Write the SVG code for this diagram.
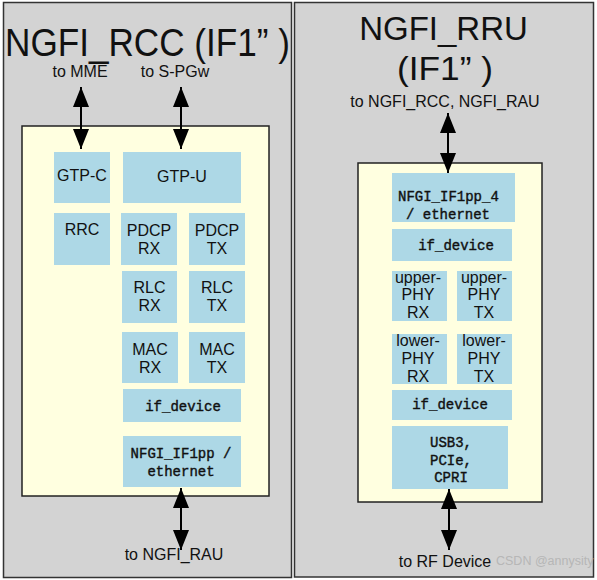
<svg xmlns="http://www.w3.org/2000/svg" width="597" height="580" viewBox="0 0 597 580">
<defs>
<marker id="ah" viewBox="0 0 20 16" refX="20" refY="8" markerWidth="20" markerHeight="16" markerUnits="userSpaceOnUse" orient="auto-start-reverse">
<path d="M0,0 L20,8 L0,16 z" fill="#000"/>
</marker>
<style>
.panel{fill:#d3d3d3;stroke:#333;stroke-width:1.5}
.inner{fill:#ffffe0;stroke:#222;stroke-width:1.5}
.blk{fill:#add8e6;stroke:none}
.t{font-family:"Liberation Sans",Arial,sans-serif;font-size:16px;fill:#111;text-anchor:middle}
.m{font-family:"Liberation Mono","Courier New",monospace;font-size:14px;fill:#111;stroke:#111;stroke-width:0.4;text-anchor:middle}
.ms{font-family:"Liberation Mono","Courier New",monospace;font-size:14px;fill:#111;stroke:#111;stroke-width:0.4;text-anchor:start}
.title{font-family:"Liberation Sans",Arial,sans-serif;fill:#111}
.conn{stroke:#000;stroke-width:2;fill:none;marker-start:url(#ah);marker-end:url(#ah)}
</style>
</defs>
<rect width="597" height="580" fill="#fff"/>

<g id="panel-rcc">
<rect class="panel" x="3.5" y="2.5" width="288" height="575"/>
<text class="title" x="5" y="56" font-size="39" textLength="285" lengthAdjust="spacingAndGlyphs">NGFI_RCC (IF1” )</text>
<text class="t" x="80" y="77">to MME</text>
<text class="t" x="175" y="77">to S-PGw</text>
<text class="t" x="174" y="560">to NGFI_RAU</text>
<rect class="inner" x="22" y="126" width="247" height="370"/>
</g>

<g id="panel-rru">
<rect class="panel" x="294.5" y="2.5" width="299" height="574.5"/>
<text class="title" x="443.5" y="40" font-size="33" text-anchor="middle">NGFI_RRU</text>
<text class="title" x="445" y="80" font-size="33" text-anchor="middle" textLength="96" lengthAdjust="spacingAndGlyphs">(IF1” )</text>
<text class="t" x="445" y="107">to NGFI_RCC, NGFI_RAU</text>
<text class="t" x="445" y="567">to RF Device</text>
<rect class="inner" x="358" y="163" width="184" height="339"/>
</g>

<g id="gtp-c"><rect class="blk" x="54" y="152" width="56" height="51"/><text class="t" x="82" y="181">GTP-C</text></g>
<g id="gtp-u"><rect class="blk" x="123" y="152" width="118" height="51"/><text class="t" x="182" y="182">GTP-U</text></g>
<g id="rrc"><rect class="blk" x="54" y="213" width="56" height="52"/><text class="t" x="82" y="235">RRC</text></g>
<g id="pdcp-rx"><rect class="blk" x="121" y="213" width="56" height="52"/><text class="t" x="149" y="236">PDCP</text><text class="t" x="149" y="253.5">RX</text></g>
<g id="pdcp-tx"><rect class="blk" x="189" y="213" width="56" height="52"/><text class="t" x="217" y="236">PDCP</text><text class="t" x="217" y="253.5">TX</text></g>
<g id="rlc-rx"><rect class="blk" x="122" y="271" width="55" height="52"/><text class="t" x="149.5" y="293">RLC</text><text class="t" x="149.5" y="311">RX</text></g>
<g id="rlc-tx"><rect class="blk" x="189" y="271" width="56" height="52"/><text class="t" x="217" y="293">RLC</text><text class="t" x="217" y="311">TX</text></g>
<g id="mac-rx"><rect class="blk" x="122" y="332" width="56" height="51"/><text class="t" x="150" y="354.5">MAC</text><text class="t" x="150" y="372.5">RX</text></g>
<g id="mac-tx"><rect class="blk" x="189" y="332" width="56" height="51"/><text class="t" x="217" y="354.5">MAC</text><text class="t" x="217" y="372.5">TX</text></g>
<g id="if-device-rcc"><rect class="blk" x="123" y="389" width="118" height="33"/><text class="m" x="183" y="411">if_device</text></g>
<g id="nfgi-rcc"><rect class="blk" x="123" y="436" width="118" height="51"/><text class="m" x="181" y="458">NFGI_IF1pp /</text><text class="m" x="181" y="476">ethernet</text></g>

<g id="nfgi-rru"><rect class="blk" x="392" y="173" width="123" height="49"/><text class="ms" x="398" y="201">NFGI_IF1pp_4</text><text class="ms" x="406" y="218.5">/ ethernet</text></g>
<g id="if-device-rru1"><rect class="blk" x="392" y="229" width="120" height="32"/><text class="m" x="456" y="249.5">if_device</text></g>
<g id="upper-phy-rx"><rect class="blk" x="392" y="271" width="55" height="50"/><text class="t" x="418" y="282.5">upper-</text><text class="t" x="418" y="300">PHY</text><text class="t" x="418" y="317.5">RX</text></g>
<g id="upper-phy-tx"><rect class="blk" x="457" y="271" width="55" height="50"/><text class="t" x="484" y="282.5">upper-</text><text class="t" x="484" y="300">PHY</text><text class="t" x="484" y="317.5">TX</text></g>
<g id="lower-phy-rx"><rect class="blk" x="392" y="334" width="55" height="50"/><text class="t" x="418" y="346">lower-</text><text class="t" x="418" y="364">PHY</text><text class="t" x="418" y="381.5">RX</text></g>
<g id="lower-phy-tx"><rect class="blk" x="457" y="334" width="55" height="50"/><text class="t" x="484" y="346">lower-</text><text class="t" x="484" y="364">PHY</text><text class="t" x="484" y="381.5">TX</text></g>
<g id="if-device-rru2"><rect class="blk" x="392" y="390" width="120" height="30"/><text class="m" x="450" y="409">if_device</text></g>
<g id="usb3"><rect class="blk" x="392" y="426" width="116" height="63"/><text class="m" x="451" y="447">USB3,</text><text class="m" x="451" y="464.5">PCIe,</text><text class="m" x="451" y="482">CPRI</text></g>

<g id="connectors">
<line class="conn" x1="81" y1="87" x2="81" y2="149"/>
<line class="conn" x1="181" y1="87" x2="181" y2="149"/>
<line class="conn" x1="181" y1="488" x2="181" y2="550"/>
<line class="conn" x1="448" y1="113" x2="448" y2="173"/>
<line class="conn" x1="449" y1="489" x2="449" y2="550"/>
</g>

<text x="496" y="565" font-family="Liberation Sans,Arial,sans-serif" font-size="12.5" fill="#b4b4b4" opacity="0.9">CSDN @annysity</text>
</svg>
